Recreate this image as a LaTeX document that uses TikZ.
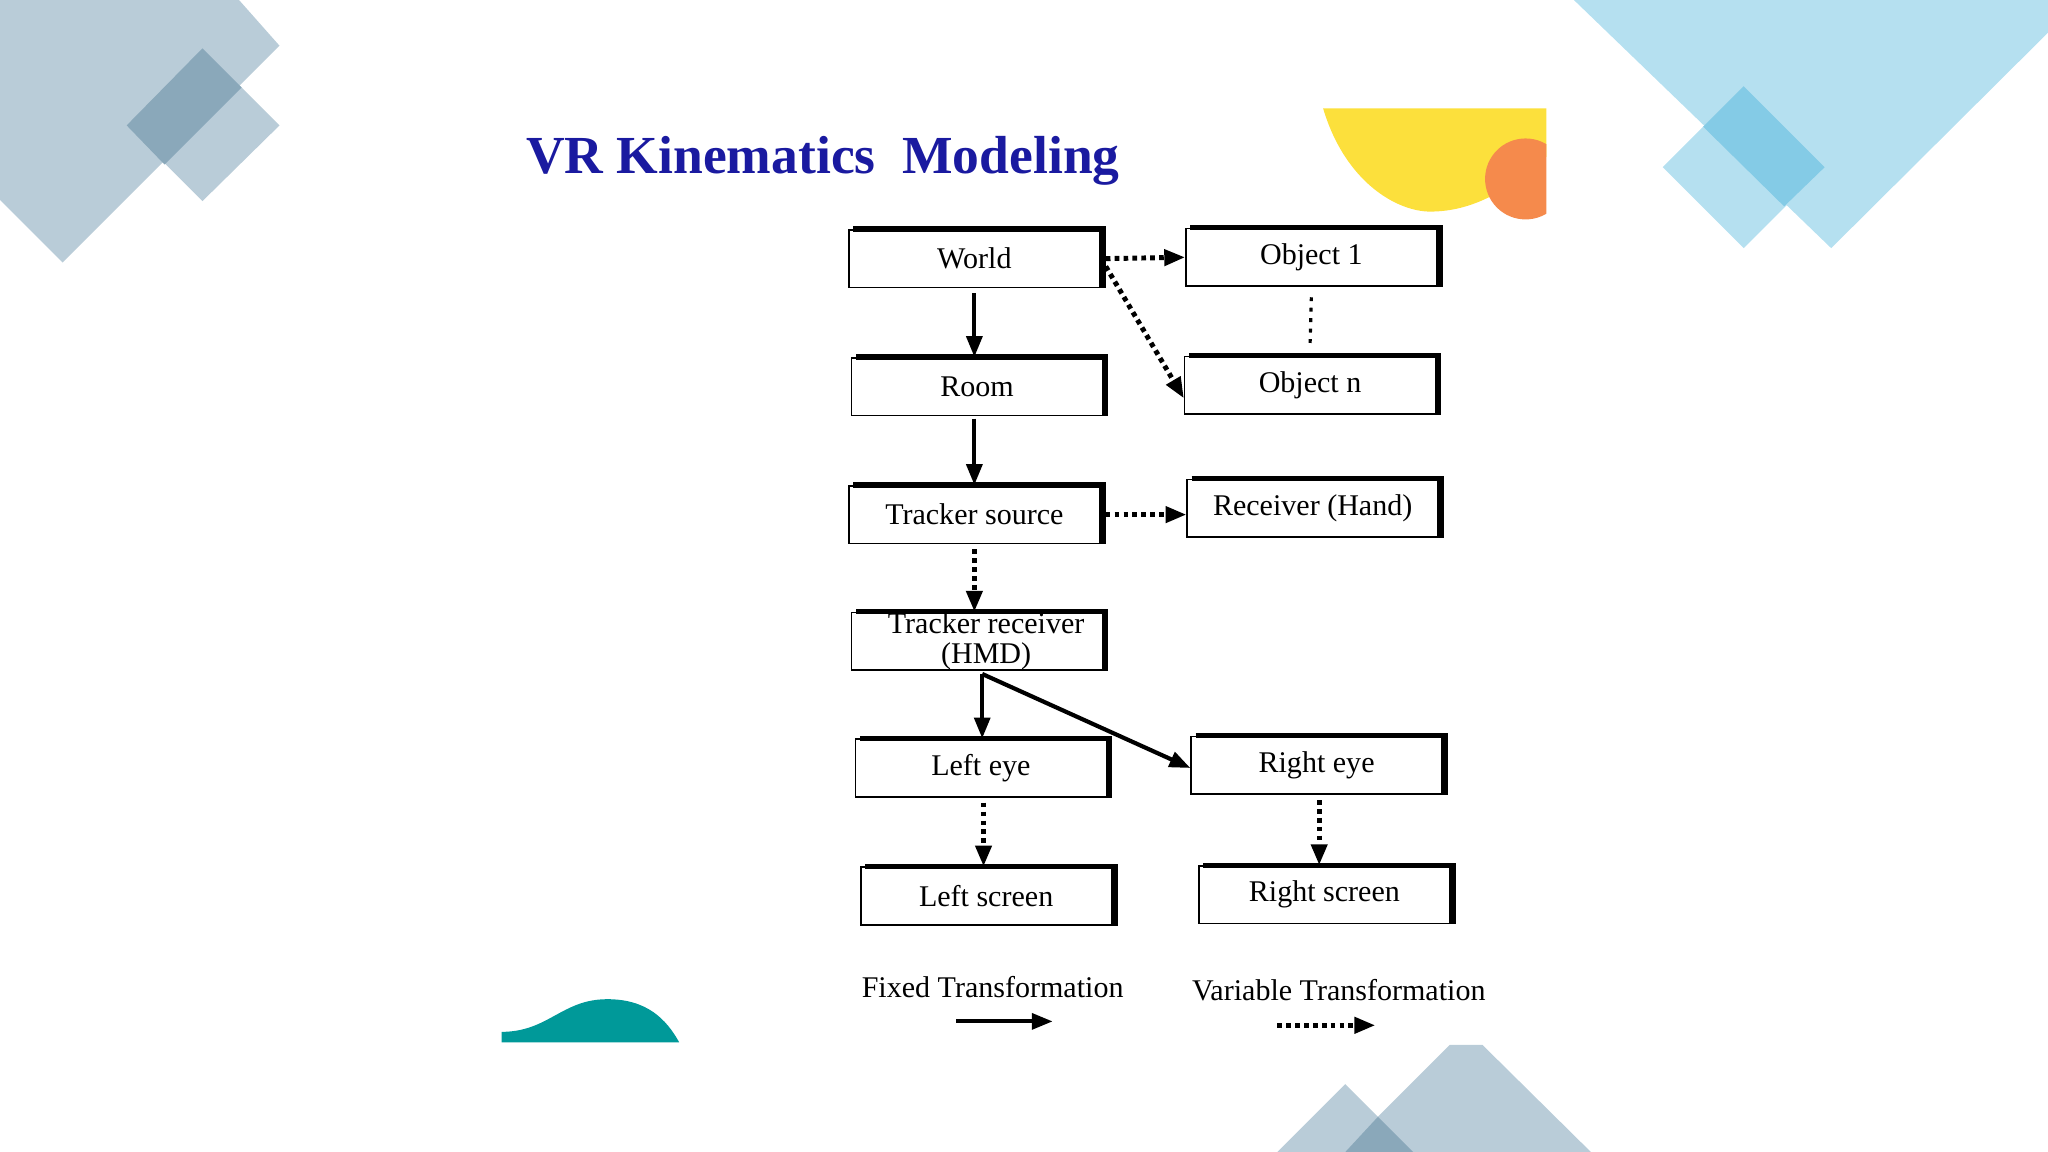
\documentclass[tikz,border=0pt]{standalone}
\usepackage{fontspec}
\setmainfont{Liberation Serif}
\usetikzlibrary{arrows.meta}
\definecolor{gb}{HTML}{B9CCD8}
\definecolor{gbd}{HTML}{8AA8BA}
\definecolor{lb}{HTML}{B5E0F0}
\definecolor{lbd}{HTML}{84CBE6}
\definecolor{ttl}{HTML}{1A1AA0}
\definecolor{yel}{HTML}{FCE03C}
\definecolor{org}{HTML}{F58A4C}
\begin{document}
\begin{tikzpicture}[x=0.5pt,y=-0.5pt,
 box/.style={draw,line width=0.6pt,minimum width=96pt,minimum height=22pt,inner sep=0pt,font=\fontsize{11.5}{11}\selectfont,fill=white},
 fx/.style={line width=1.6pt,-{Triangle[length=8pt,width=6pt]}},
 vr/.style={line width=1.9pt,dash pattern=on 1.8pt off 1.6pt,-{Triangle[length=8pt,width=6pt]}}]
\useasboundingbox (0,0) rectangle (1568,882);
% decorations
\fill[gb] (0,0)--(183,0)--(214,35)--(48,201)--(0,153)--cycle;
\fill[gb] (155,37)--(214,96)--(155,154)--(97,96)--cycle;
\fill[gbd] (155,37)--(185,67)--(126,126)--(97,96)--cycle;
\fill[lb] (1205,0)--(1568,0)--(1568,25)--(1402,190)--cycle;
\fill[lb] (1335,66)--(1397,128)--(1335,190)--(1273,128)--cycle;
\fill[lbd] (1335,66)--(1397,128)--(1366,158)--(1304,97)--cycle;
\fill[gb] (978,882)--(1030,830)--(1055,855)--(1110,800)--(1135,800)--(1218,882)--cycle;
\fill[gbd] (1030,882)--(1055,855)--(1082,882)--cycle;
\fill[teal!80!cyan] (384,798)--(384,790) .. controls (420,790) and (430,765) .. (465,765) .. controls (495,765) and (510,780) .. (520,798)--cycle;
\begin{scope}
\clip (1000,83) rectangle (1184,200);
\fill[yel] (1013,83) .. controls (1030,140) and (1070,162) .. (1095,162) .. controls (1140,162) and (1170,130) .. (1184,120) -- (1184,83)--cycle;
\fill[org] (1168,137) circle (31);
\end{scope}
\node[font=\fontsize{20.5}{20}\selectfont\bfseries,text=ttl] (t) at (630,123) {VR Kinematics\ \ Modeling};
% boxes
\node[box] (w) at (746,198) {World};
\node[box] (r) at (748,296) {Room};
\node[box] (ts) at (746,394) {Tracker source};
\node[box] (tr) at (748,491) {};
\node[align=center,font=\fontsize{11.5}{11.5}\selectfont,inner sep=0pt] (trt) at (755,491) {Tracker receiver\\(HMD)};
\node[box] (le) at (751,588) {Left eye};
\node[box] (ls) at (755,686) {Left screen};
\node[box] (o1) at (1004,197) {Object 1};
\node[box] (on) at (1003,295) {Object n};
\node[box] (rh) at (1005,389) {Receiver (Hand)};
\node[box] (re) at (1008,586) {Right eye};
\node[box] (rs) at (1014,685) {Right screen};
\foreach \n in {w,r,ts,tr,le,ls,o1,on,rh,re,rs}
  \draw[line width=2pt] ([xshift=2pt]\n.north west)--([xshift=1pt]\n.north east)--([xshift=1pt]\n.south east);
% arrows
\draw[fx] (w.south) ++(0,4) coordinate (a1) -- (r.north -| a1);
\draw[fx] ([yshift=-1pt]r.south -| a1) -- (ts.north -| a1);
\draw[vr] ([xshift=2pt]w.east) -- (o1.west);
\draw[vr] ([xshift=2pt,yshift=-3pt]w.east) -- ([yshift=-5pt]on.west);
\draw[line width=1.2pt,dash pattern=on 1.5pt off 2.5pt] ([yshift=-4pt]o1.south) -- ([yshift=4pt]on.north);
\draw[vr] ([xshift=2pt]ts.east) -- (rh.west |- ts.east);
\draw[vr] ([yshift=-2pt]ts.south -| a1) -- (tr.north -| a1);
\coordinate (h) at (752,516);
\draw[fx] (h) -- (le.north -| h);
\draw[fx] (h) -- ([yshift=-1pt]re.west);
\draw[vr] ([yshift=-2pt]le.south -| 753,0) -- (ls.north -| 753,0);
\draw[vr] ([yshift=-2pt]re.south -| 1010,0) -- (rs.north -| 1010,0);
% legend
\node[font=\fontsize{11.5}{11}\selectfont] (lf) at (760,756) {Fixed Transformation};
\node[font=\fontsize{11.5}{11}\selectfont] (lv) at (1025,758) {Variable Transformation};
\coordinate (f1) at (732,782); \coordinate (f2) at (806,782);
\coordinate (v1) at (978,785); \coordinate (v2) at (1053,785);
\draw[fx] (f1)--(f2);
\draw[vr] (v1)--(v2);
\end{tikzpicture}
\end{document}
